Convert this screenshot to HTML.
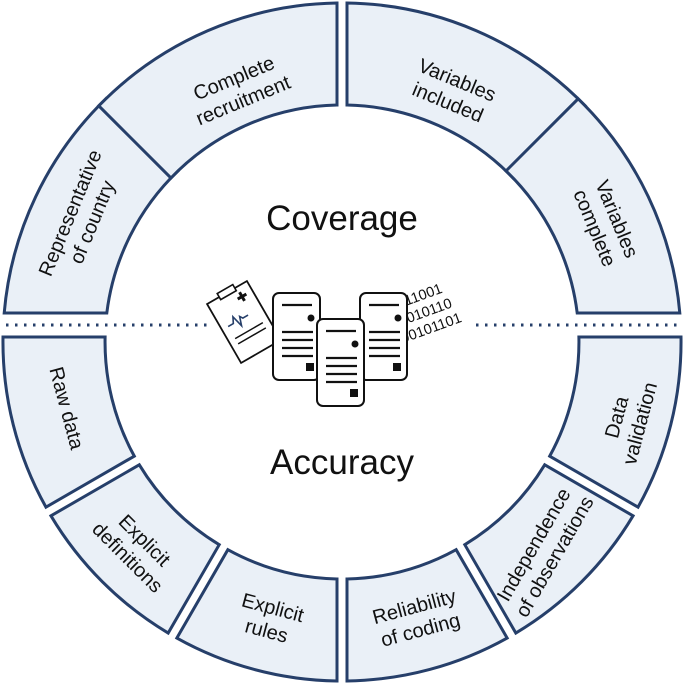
<!DOCTYPE html>
<html><head><meta charset="utf-8"><style>
html,body{margin:0;padding:0;background:#fff;}
svg{display:block;}
text{font-family:"Liberation Sans",sans-serif;}
</style></head><body>
<svg width="685" height="685" viewBox="0 0 685 685" xmlns="http://www.w3.org/2000/svg">
<g fill="#eaf0f7" stroke="#263f6a" stroke-width="3" stroke-linejoin="miter">
<path d="M4.2,313 A339,339 0 0 1 105.85,98.78 L177.98,170.92 A237,237 0 0 0 106.8,313 Z"/>
<path d="M98.78,105.85 A339,339 0 0 1 337,3 L337,105.05 A237,237 0 0 0 170.92,177.98 Z"/>
<path d="M347,3 A339,339 0 0 1 585.22,105.85 L513.08,177.98 A237,237 0 0 0 347,105.05 Z"/>
<path d="M578.15,98.78 A339,339 0 0 1 679.8,313 L577.2,313 A237,237 0 0 0 506.02,170.92 Z"/>
<path d="M3,337 A339,339 0 0 0 45.95,507.15 L134.3,456.14 A237,237 0 0 1 105.1,337 Z"/>
<path d="M50.95,515.81 A339,339 0 0 0 168.19,633.05 L219.2,544.7 A237,237 0 0 1 139.3,464.8 Z"/>
<path d="M176.85,638.05 A339,339 0 0 0 337,681 L337,578.95 A237,237 0 0 1 227.86,549.7 Z"/>
<path d="M347,681 A339,339 0 0 0 507.15,638.05 L456.14,549.7 A237,237 0 0 1 347,578.95 Z"/>
<path d="M515.81,633.05 A339,339 0 0 0 633.05,515.81 L544.7,464.8 A237,237 0 0 1 464.8,544.7 Z"/>
<path d="M638.05,507.15 A339,339 0 0 0 681,337 L578.9,337 A237,237 0 0 1 549.7,456.14 Z"/>
</g>
<g stroke="#263f6a" stroke-width="3" stroke-dasharray="2.5 6.5" stroke-linecap="butt">
<line x1="6" y1="325" x2="212" y2="325"/>
<line x1="476" y1="325" x2="682" y2="325"/>
</g>
<g font-size="20" fill="#111" text-anchor="middle">
<text transform="translate(238,88) rotate(-22.5)"><tspan x="0" y="-4">Complete</tspan><tspan x="0" y="20">recruitment</tspan></text>
<text transform="translate(80,217) rotate(-67.5)"><tspan x="0" y="-4">Representative</tspan><tspan x="0" y="20">of country</tspan></text>
<text transform="translate(453,90) rotate(22.5)"><tspan x="0" y="-4">Variables</tspan><tspan x="0" y="20">included</tspan></text>
<text transform="translate(607,223) rotate(67.5)"><tspan x="0" y="-4">Variables</tspan><tspan x="0" y="20">complete</tspan></text>
<text transform="translate(67,408) rotate(75)"><tspan x="0" y="7">Raw data</tspan></text>
<text transform="translate(137,548) rotate(45)"><tspan x="0" y="-4">Explicit</tspan><tspan x="0" y="20">definitions</tspan></text>
<text transform="translate(270,618) rotate(15)"><tspan x="0" y="-4">Explicit</tspan><tspan x="0" y="20">rules</tspan></text>
<text transform="translate(417,617) rotate(-15)"><tspan x="0" y="-4">Reliability</tspan><tspan x="0" y="20">of coding</tspan></text>
<text transform="translate(543,550) rotate(-60)"><tspan x="0" y="-4">Independence</tspan><tspan x="0" y="20">of observations</tspan></text>
<text transform="translate(627,420) rotate(-75)"><tspan x="0" y="-4">Data</tspan><tspan x="0" y="20">validation</tspan></text>
</g>
<text x="342" y="230" font-size="35" text-anchor="middle" fill="#111">Coverage</text>
<text x="342" y="474" font-size="35" text-anchor="middle" fill="#111">Accuracy</text>
<g transform="translate(244,322) rotate(-30)">
<rect x="-23" y="-34" width="46" height="68" fill="#fff" stroke="#111" stroke-width="1.8"/>
<rect x="-9" y="-38" width="18" height="7" fill="#fff" stroke="#111" stroke-width="1.6"/>
<path d="M11,-28 v10 M6,-23 h10" stroke="#111" stroke-width="3"/>
<path d="M-16,-4 h6 l3,-6 l3,12 l3,-9 l2,3 h6" fill="none" stroke="#263f6a" stroke-width="1.6"/>
<path d="M-16,10 h32 M-16,16 h32" stroke="#111" stroke-width="1.5"/>
</g>
<g font-size="14.5" fill="#111" transform="rotate(-20 420 320)">
<text x="404" y="302">011001</text>
<text x="400" y="319">0010110</text>
<text x="396" y="336">00101101</text>
</g>
<defs>
<g id="srv">
<rect x="0" y="0" width="47" height="87" rx="6" fill="#fff" stroke="#111" stroke-width="2"/>
<path d="M9,12 h30 M9,39 h31 M9,47 h31 M9,55 h31 M9,63 h31" stroke="#111" stroke-width="2.2"/>
<circle cx="38" cy="25" r="3.5" fill="#111"/>
<rect x="33" y="70" width="8" height="8" fill="#111"/>
</g>
</defs>
<use href="#srv" x="273" y="293"/>
<use href="#srv" x="360" y="293"/>
<use href="#srv" x="317" y="319"/>
</svg>
</body></html>
